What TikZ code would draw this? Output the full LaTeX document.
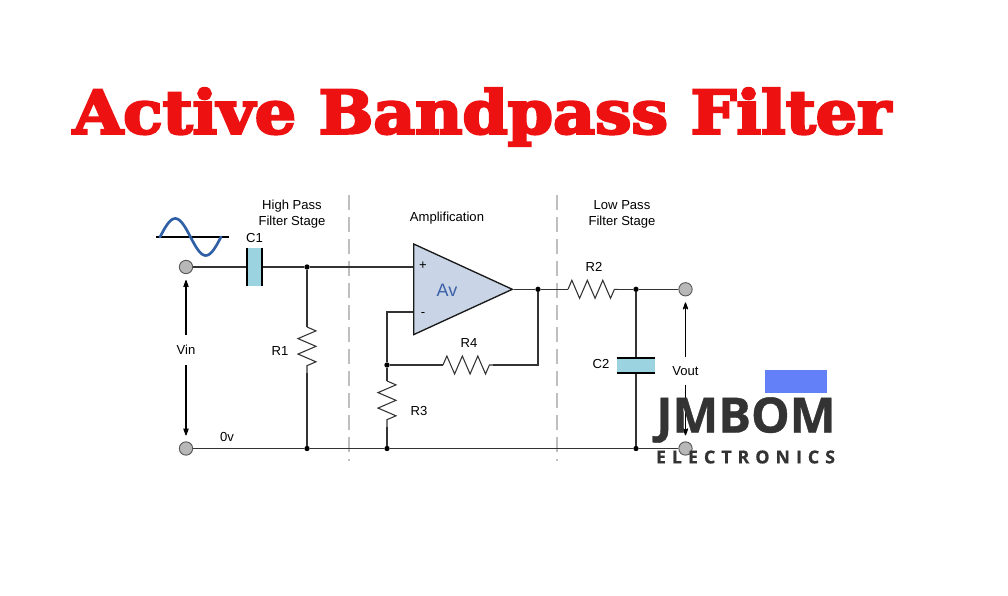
\documentclass[tikz,border=0pt]{standalone}
\usepackage{fontspec}
\setmainfont{Liberation Sans}
\newfontfamily\titlefont[BoldFont={DejaVu Serif Bold},BoldFeatures={FakeBold=4}]{DejaVu Serif}
\newfontfamily\logofont[BoldFont={Open Sans Bold},BoldFeatures={FakeBold=0.8}]{Open Sans}
\usetikzlibrary{arrows.meta, positioning, shapes.geometric, decorations.pathmorphing}

\definecolor{titlered}{HTML}{EE1111}
\definecolor{ampfill}{HTML}{C9D5E6}
\definecolor{capfill}{HTML}{9BD3E0}
\definecolor{logoblue}{HTML}{6480F8}
\definecolor{logogray}{HTML}{333333}

\begin{document}
\begin{tikzpicture}[x=0.75pt,y=-0.75pt,>={Stealth[round,length=7pt,width=5pt]},node distance=2pt,
        wire/.style={draw=black!80,line width=0.8pt},
        zig/.style={wire,decorate,decoration={zigzag,segment length=11.6pt,amplitude=6.75pt}},
        terminal/.style={circle,draw=black!65,fill=black!28,line width=0.7pt,minimum size=10pt,inner sep=0pt},
        junction/.style={circle,fill=black,minimum size=4pt,inner sep=0pt},
        capbox/.style={fill=capfill,inner sep=0pt},
        plate/.style={line width=2pt,draw=black},
        stage/.style={draw=black!25,line width=1.5pt,dash pattern=on 11pt off 5.5pt},
        lbl/.style={font=\fontsize{9.8}{12}\selectfont,inner sep=0pt,align=center},
        sig/.style={->,line width=0.8pt,shorten >=4.5pt}]

        \useasboundingbox (0,0) rectangle (1008,596);

        \node[font=\titlefont\bfseries\fontsize{45}{50}\selectfont,text=titlered,xscale=1.08,inner sep=0pt] (title) at (482,117) {Active Bandpass Filter};

        % stage separators
        \coordinate (sep1a) at (349,195); \coordinate (sep1b) at (349,461);
        \coordinate (sep2a) at (557,195); \coordinate (sep2b) at (557,461);
        \draw[stage] (sep1a) -- (sep1b);
        \draw[stage] (sep2a) -- (sep2b);

        % terminals
        \node[terminal] (vin) at (186,267) {};
        \node[terminal] (gnd) at (186,448.5) {};
        \node[terminal] (vout) at (685.5,289.3) {};
        \node[terminal] (gout) at (685.5,448.5) {};

        % junctions
        \node[junction] (j1) at (307,267) {};
        \node[junction] (j2) at (307,448.5) {};
        \node[junction] (j3) at (387,365) {};
        \node[junction] (j4) at (387,448.5) {};
        \node[junction] (j5) at (538,289.3) {};
        \node[junction] (j6) at (636,289.3) {};
        \node[junction] (j7) at (636,448.5) {};

        % op amp
        \node[isosceles triangle,isosceles triangle stretches,draw=black!90,fill=ampfill,line width=1pt,
            minimum width=68pt,minimum height=74pt,inner sep=0pt,anchor=lower side] (amp) at (413,289.3) {};
        \coordinate (inp) at (413,267);
        \coordinate (inm) at (413,312);
        \coordinate (fb) at (387,312);
        \node[lbl] (plus) at (423,266) {+};
        \node[lbl] (minus) at (423,315) {-};
        \node[lbl,font=\fontsize{13.5}{16}\selectfont,text={rgb,255:red,58;green,96;blue,168}] (av) at (447,290) {Av};

        % capacitors
        \node[capbox,minimum width=11pt,minimum height=28.5pt] (c1) at (254.5,267) {};
        \node[capbox,minimum width=28.5pt,minimum height=10.7pt] (c2) at (636,365.5) {};

        % resistor ends
        \coordinate (r1a) at (307,327); \coordinate (r1b) at (307,373);
        \coordinate (r3a) at (387,381); \coordinate (r3b) at (387,427);
        \coordinate (r2a) at (568,289.3); \coordinate (r2b) at (618,289.3);
        \coordinate (r4a) at (443,365); \coordinate (r4b) at (493,365);
        \coordinate (fbr) at (538,365);

        % wiring
        \draw[wire] (vin) -- (c1.west);
        \draw[wire] (c1.east) -- (j1) -- (inp);
        \draw[wire] (j1) -- (r1a);
        \draw[zig] (r1a) -- (r1b);
        \draw[wire] (r1b) -- (j2);
        \draw[wire] (gnd) -- (j2) -- (j4) -- (j7) -- (gout);
        \draw[wire] (inm) -- (fb) -- (j3) -- (r3a);
        \draw[zig] (r3a) -- (r3b);
        \draw[wire] (r3b) -- (j4);
        \draw[wire] (j3) -- (r4a);
        \draw[zig] (r4a) -- (r4b);
        \draw[wire] (r4b) -- (fbr) -- (j5);
        \draw[wire] (amp.apex) -- (j5) -- (r2a);
        \draw[zig] (r2a) -- (r2b);
        \draw[wire] (r2b) -- (j6) -- (vout);
        \draw[wire] (j6) -- (c2.north);
        \draw[wire] (c2.south) -- (j7);

        % capacitor plates
        \draw[plate] (c1.north west) -- (c1.south west);
        \draw[plate] (c1.north east) -- (c1.south east);
        \draw[plate] (c2.north west) -- (c2.north east);
        \draw[plate] (c2.south west) -- (c2.south east);

        % voltage arrows
        \node[lbl,minimum height=22pt] (vinlbl) at (186,350) {Vin};
        \node[lbl,minimum height=20pt] (voutlbl) at (685.5,371) {Vout};
        \draw[sig] (vinlbl) -- (vin);
        \draw[sig] (vinlbl) -- (gnd);
        \draw[sig] (voutlbl) -- (vout);
        \draw[sig] (voutlbl) -- (gout);

        % input wave
        \coordinate (wavea) at (156,237); \coordinate (waveb) at (229,237);
        \draw[line width=1pt] (wavea) -- (waveb);
        \draw[line width=2pt,draw={rgb,255:red,47;green,95;blue,165},line cap=round]
            plot[domain=0:360,samples=40,smooth] ({160+\x/360*61},{237-18.5*sin(\x)});

        % labels
        \node[lbl] (hp) at (292,214) {High Pass\\Filter Stage};
        \node[lbl] (ampl) at (447,218) {Amplification};
        \node[lbl] (lp) at (622,214) {Low Pass\\Filter Stage};
        \node[lbl,above=4pt of c1] (c1lbl) {C1};
        \node[lbl] (r1lbl) at (280,351) {R1};
        \node[lbl] (r3lbl) at (419,411) {R3};
        \node[lbl] (r2lbl) at (594,267) {R2};
        \node[lbl] (r4lbl) at (469,343) {R4};
        \node[lbl] (c2lbl) at (601,364) {C2};
        \node[lbl] (zero) at (227,437) {0v};

        % logo
        \node[fill=logoblue,minimum width=46.5pt,minimum height=17pt,inner sep=0pt] (logobar) at (796,381.5) {};
        \node[font=\logofont\bfseries\fontsize{36.5}{40}\selectfont,text=logogray,inner sep=0pt] (jmbom) at (746,420) {JMBOM};
        \node[font=\logofont\bfseries\fontsize{13.4}{16}\selectfont,text=logogray,inner sep=0pt] (elec) at (745.5,457) {E\,\,L\,\,E\,\,C\,\,T\,\,R\,\,O\,\,N\,\,I\,\,C\,\,S};
    \end{tikzpicture}
\end{document}
